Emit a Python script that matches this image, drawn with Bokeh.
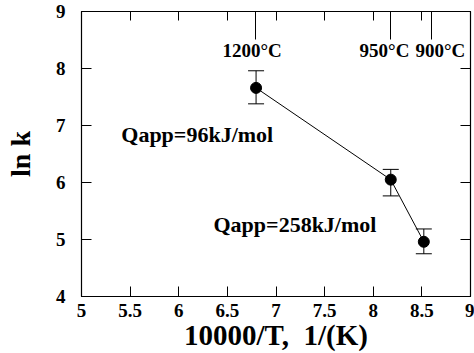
from bokeh.plotting import figure
from bokeh.models import (ColumnDataSource, Whisker, TeeHead, LinearAxis, FixedTicker,
                          Range1d)
from bokeh.embed import file_html
from bokeh.resources import INLINE
from bokeh.core.properties import value

# data
inv_T = [6.795, 8.18, 8.52]          # 10000/T, 1/K
ln_k = [7.66, 6.05, 4.96]
ln_k_upper = [7.96, 6.23, 5.185]
ln_k_lower = [7.38, 5.765, 4.75]

x_ticks = [5, 5.5, 6, 6.5, 7, 7.5, 8, 8.5, 9]
y_ticks = [4, 5, 6, 7, 8, 9]

temp_labels = ["1200°C", "950°C", "900°C"]
temp_tick_x = [6.79, 8.18, 8.6]
temp_label_x = [6.755, 8.116, 8.69]
temp_label_y = [8.32, 8.32, 8.32]

q_labels = ["Qapp=96kJ/mol", "Qapp=258kJ/mol"]
q_label_x = [6.19, 7.195]
q_label_y = [6.84, 5.27]

FONT = "Liberation Serif"

p = figure(width=474, height=353, x_range=Range1d(5, 9), y_range=Range1d(4, 9),
           x_axis_location=None, y_axis_location=None,
           output_backend="svg", toolbar_location=None,
           min_border_left=81, min_border_right=4, min_border_top=11, min_border_bottom=55)
p.xgrid.visible = False
p.ygrid.visible = False
p.outline_line_color = "black"
p.outline_line_width = 1.2
p.background_fill_color = "white"
p.border_fill_color = "white"

common = dict(major_tick_in=10, major_tick_out=0, minor_tick_in=0, minor_tick_out=0,
              axis_line_color="black", major_tick_line_color="black",
              major_label_text_font=FONT, major_label_text_font_style="bold",
              major_label_text_font_size="19px", major_label_text_color="black",
              axis_label_text_font=FONT, axis_label_text_font_style="bold",
              axis_label_text_color="black", axis_label_text_line_height=1.0)

bottom = LinearAxis(ticker=FixedTicker(ticks=x_ticks),
                    major_label_overrides={5: "5", 6: "6", 7: "7", 8: "8", 9: "9"},
                    axis_label="10000/T,\u00a0\u00a01/(K)", axis_label_text_font_size="29px",
                    major_label_standoff=7, axis_label_standoff=-1, **common)
p.add_layout(bottom, "below")

left = LinearAxis(ticker=FixedTicker(ticks=y_ticks), axis_label="ln k",
                  axis_label_text_font_size="28px", major_label_standoff=16,
                  axis_label_standoff=17, **common)
p.add_layout(left, "left")

# right axis: ticks only
right = LinearAxis(ticker=FixedTicker(ticks=y_ticks), major_tick_in=10, major_tick_out=0,
                   minor_tick_in=0, minor_tick_out=0, major_label_text_alpha=0,
                   major_label_text_font_size="1px", major_label_standoff=0,
                   axis_line_color="black")
p.add_layout(right, "right")

# top axis: temperature ticks long (major), regular ticks short (minor)
top = LinearAxis(ticker=FixedTicker(ticks=temp_tick_x, minor_ticks=x_ticks[1:-1]),
                 major_tick_in=28, major_tick_out=0, minor_tick_in=9, minor_tick_out=0,
                 major_label_text_alpha=0, major_label_text_font_size="1px",
                 major_label_standoff=0,
                 axis_line_color="black", minor_tick_line_color="black")
p.add_layout(top, "above")

src = ColumnDataSource(dict(x=inv_T, y=ln_k, upper=ln_k_upper, lower=ln_k_lower))

p.add_layout(Whisker(base="x", upper="upper", lower="lower", source=src,
                     line_color="black", line_width=1,
                     upper_head=TeeHead(size=16, line_color="black", line_width=1),
                     lower_head=TeeHead(size=16, line_color="black", line_width=1)))
p.line("x", "y", source=src, line_color="black", line_width=1)
p.scatter("x", "y", source=src, size=11, fill_color="black", line_color="black")

tsrc = ColumnDataSource(dict(x=temp_label_x, y=temp_label_y, t=temp_labels))
p.text("x", "y", text="t", source=tsrc, text_font=value(FONT), text_font_style="bold",
       text_font_size="19px", text_align="center", text_baseline="middle", text_color="black")

qsrc = ColumnDataSource(dict(x=q_label_x, y=q_label_y, t=q_labels))
p.text("x", "y", text="t", source=qsrc, text_font=value(FONT), text_font_style="bold",
       text_font_size="22px", text_align="center", text_baseline="middle", text_color="black")

open("out.html", "w").write(file_html(p, INLINE))
